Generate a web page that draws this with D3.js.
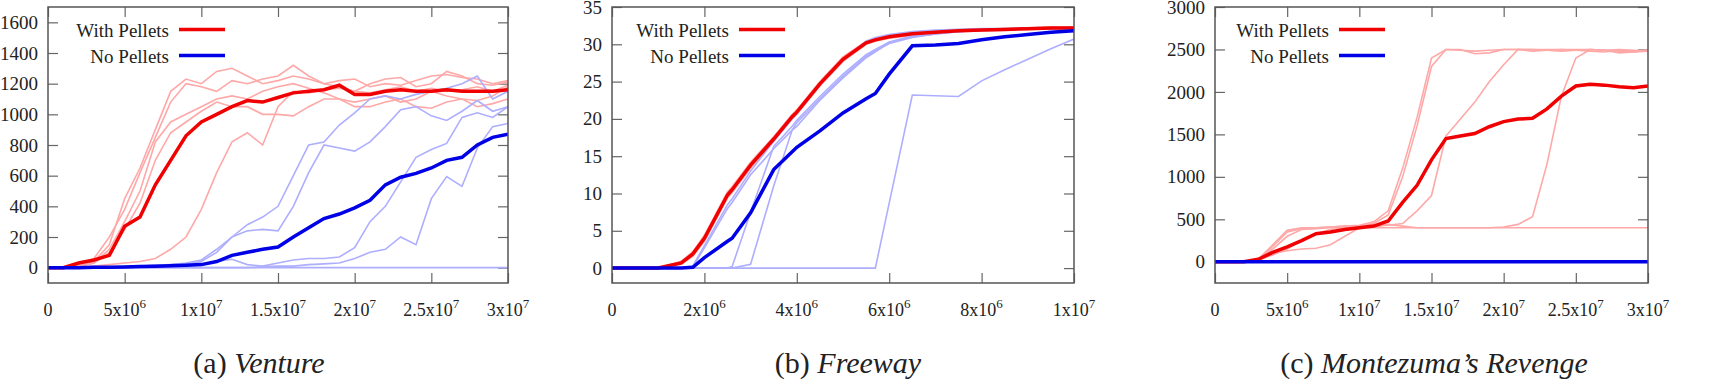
<!DOCTYPE html>
<html>
<head>
<meta charset="utf-8">
<script src="https://cdn.jsdelivr.net/npm/d3@7"></script>
<style>
body { margin: 0; background: #fff; }
svg text { font-family: "Liberation Serif", "DejaVu Serif", serif !important; fill: #222; }
.frame { fill: none; stroke: #555; stroke-width: 1.5; }
.tick line { stroke: #666; stroke-width: 1.2; }
.domain { display: none; }
</style>
</head>
<body>
<div id="chart"></div>
<script>
// ---------- data (x in millions of frames) ----------

// (a) Venture
var ventureSteps = [0,1,2,3,4,5,6,7,8,9,10,11,12,13,14,15,16,17,18,19,20,21,22,23,24,25,26,27,28,29,30];
var ventureRedMean = [0,0,30,50,80,270,330,540,700,860,950,1000,1050,1090,1080,1110,1140,1150,1160,1190,1130,1130,1150,1160,1150,1150,1160,1150,1150,1150,1160];
var ventureRed1 = [0,0,10,40,150,450,650,900,1150,1230,1200,1280,1300,1250,1200,1220,1250,1230,1200,1220,1230,1180,1200,1190,1220,1250,1260,1240,1230,1200,1220];
var ventureRed2 = [0,0,20,60,200,380,620,850,1080,1200,1180,1150,1220,1200,1230,1250,1320,1250,1200,1180,1150,1200,1230,1240,1180,1200,1280,1250,1200,1190,1210];
var ventureRed3 = [0,0,10,30,120,300,500,820,950,1000,1050,1100,1120,1100,1150,1180,1200,1170,1140,1100,1080,1100,1120,1080,1100,1150,1120,1100,1090,1120,1180];
var ventureRed4 = [0,0,5,30,100,250,420,700,880,950,1020,1080,1050,1050,1000,1000,990,1050,1100,1100,1050,1050,1080,1100,1050,1040,1080,1100,1050,1070,1100];
var ventureRed5 = [0,0,0,10,20,30,40,60,120,200,380,620,820,880,800,1050,1150,1140,1160,1170,1150,1140,1160,1180,1150,1170,1150,1160,1180,1150,1190];
var ventureBlueMean = [0,0,0,2,3,5,7,10,12,15,20,40,80,100,120,135,200,260,320,350,390,440,540,590,615,650,700,720,800,850,870];
var ventureBlue1 = [0,0,0,0,0,5,10,15,20,30,50,120,200,280,330,400,600,800,820,930,1010,1100,1120,1100,1130,1150,1170,1200,1250,1100,1150];
var ventureBlue2 = [0,0,0,0,0,5,10,15,20,25,40,100,200,240,250,240,400,620,800,780,760,820,920,1030,1050,990,960,1020,1090,1020,1050];
var ventureBlue3 = [0,0,0,0,0,0,5,10,15,15,20,40,55,20,10,30,50,60,60,70,130,300,400,560,720,770,810,980,1010,980,1050];
var ventureBlue4 = [0,0,0,0,0,0,0,0,0,0,0,0,0,0,5,10,10,20,25,30,60,100,120,200,150,450,594,530,780,920,940];
var ventureBlue5 = [0,0,0,0,0,0,0,0,0,0,0,0,0,0,0,0,0,0,0,0,0,0,0,0,0,0,0,0,0,0,0];

// (b) Freeway
var freewaySteps = [0,1,1.5,1.75,2,2.5,2.6,3,3.5,3.9,4,4.5,5,5.5,5.7,6,6.5,7,7.5,8,8.5,9,9.5,10];
var freewayRedMean = [0,0,0.7,1.9,4,9.8,10.5,13.8,17.3,20.3,20.9,24.7,28,30.2,30.6,31,31.4,31.6,31.8,31.9,32,32.1,32.2,32.2];
var freewayRed1 = [0,0,0.9,2.2,4.4,10.2,10.9,14.2,17.6,20.6,21.2,25,28.3,30.4,30.8,31.2,31.6,31.8,31.9,32,32.1,32.2,32.3,32.3];
var freewayRed2 = [0,0,0.5,1.6,3.6,9.4,10.1,13.4,17,20,20.6,24.4,27.7,30,30.4,30.8,31.2,31.5,31.7,31.8,31.9,32,32.1,32.1];
var freewayRed3 = [0,0,0.6,1.8,4.1,9.9,10.6,13.6,17.1,20.4,21,24.9,28.2,30.1,30.5,31,31.5,31.7,31.9,32,32.1,32.2,32.2,32.3];
var freewayRed4 = [0,0,0.8,2,3.9,9.6,10.3,13.9,17.5,20.2,20.8,24.5,27.8,30.3,30.7,31.1,31.3,31.6,31.8,31.9,32,32.1,32.2,32.2];
var freewayRed5 = [0,0,0.7,1.9,4,9.7,10.4,13.7,17.3,20.3,20.9,24.7,28.1,30.2,30.6,31,31.4,31.7,31.8,31.9,32,32.1,32.2,32.2];
var freewayBlueMean = [0,0,0,0.1,1.4,3.6,4,7.4,13.2,15.6,16.2,18.4,20.8,22.7,23.4,26,29.8,29.9,30.1,30.6,31,31.3,31.6,31.8];
var freewayBlue1 = [0,0,0,0.3,3,8.5,9.3,13,17,20,20.7,24.5,28,30.4,30.9,31.3,31.7,31.9,32,32.1,32.1,32.2,32.2,32.2];
var freewayBlue2 = [0,0,0,0.2,2.7,8,8.8,12.5,16,18.5,19,22.5,25.5,28.2,29,30.2,31,31.4,31.7,31.9,32,32.1,32.1,32.2];
var freewayBlue3 = [0,0,0,0,0,0,0.2,7.5,16.3,19,19.8,23,26,28.6,29.3,30.3,31.1,31.5,31.8,31.9,32,32.1,32.1,32.1];
var freewayBlue4 = [0,0,0,0,0,0,0,0.5,11,18.5,19.5,22.7,25.7,28.4,29.1,30.1,30.9,31.4,31.7,31.9,32,32.1,32.1,32.2];
var freewayBlue5 = [0,0,0,0,0,0,0,0,0,0,0,0,0,0,0,8.7,23.2,23.1,23,25.1,26.6,28,29.4,30.7];

// (c) Montezuma's Revenge
var montezumaSteps = [0,1,2,3,4,5,6,7,8,9,10,11,12,13,14,15,16,17,18,19,20,21,22,23,24,25,26,27,28,29,30];
var montezumaRedMean = [0,0,0,30,110,175,250,330,350,380,400,420,480,700,900,1200,1450,1480,1510,1590,1650,1680,1690,1800,1950,2070,2090,2080,2060,2050,2070];
var montezumaRed1 = [0,0,0,20,150,300,380,390,400,410,420,450,550,1000,1600,2300,2500,2500,2450,2460,2500,2500,2500,2500,2500,2500,2500,2490,2480,2470,2480];
var montezumaRed2 = [0,0,0,30,200,370,400,400,410,420,430,470,600,1100,1700,2400,2500,2490,2480,2490,2500,2500,2500,2490,2480,2490,2500,2490,2500,2490,2480];
var montezumaRed3 = [0,0,0,20,80,150,250,330,380,400,410,420,430,450,600,780,1480,1680,1880,2120,2320,2500,2480,2490,2500,2490,2480,2470,2490,2480,2490];
var montezumaRed4 = [0,0,0,20,100,130,150,160,200,300,400,400,400,400,400,400,400,400,400,400,410,440,530,1150,1950,2400,2500,2490,2460,2470,2490];
var montezumaRed5 = [0,0,0,30,180,350,390,400,410,420,420,410,440,420,400,400,400,400,400,400,400,400,400,400,400,400,400,400,400,400,400];
var montezumaBlueMean = [0,0,0,0,0,0,0,0,0,0,0,0,0,0,0,0,0,0,0,0,0,0,0,0,0,0,0,0,0,0,0];

// tick labels: [mantissa, exponent]
var ventureXTicks = [0,5,10,15,20,25,30];
var ventureXLabels = [["0",""],["5x10","6"],["1x10","7"],["1.5x10","7"],["2x10","7"],["2.5x10","7"],["3x10","7"]];
var ventureYTicks = [0,200,400,600,800,1000,1200,1400,1600];
var freewayXTicks = [0,2,4,6,8,10];
var freewayXLabels = [["0",""],["2x10","6"],["4x10","6"],["6x10","6"],["8x10","6"],["1x10","7"]];
var freewayYTicks = [0,5,10,15,20,25,30,35];
var montezumaXTicks = [0,5,10,15,20,25,30];
var montezumaXLabels = ventureXLabels;
var montezumaYTicks = [0,500,1000,1500,2000,2500,3000];

var legendNames = ["With Pellets", "No Pellets"];

// ---------- layout ----------
var svgWidth = 1724, svgHeight = 384;
var plotTop = 7, plotBottom = 283;
var serif = '"Liberation Serif", "DejaVu Serif", serif';

var colors = {
	red: '#f00000',
	blue: '#0000e6',
	redFaint: '#ffa8a8',
	blueFaint: '#aeaeff'
};

var svg = d3.select('#chart')
	.append('svg')
	.attr('width', svgWidth)
	.attr('height', svgHeight)
	.attr('font-family', serif);

var panels = [
	{
		id: 'a', left: 48, right: 508, steps: ventureSteps,
		xDomain: [0, 30], yDomain: [-100, 1700],
		xTicks: ventureXTicks, xLabels: ventureXLabels, yTicks: ventureYTicks,
		redRuns: [ventureRed1, ventureRed2, ventureRed3, ventureRed4, ventureRed5],
		blueRuns: [ventureBlue1, ventureBlue2, ventureBlue3, ventureBlue4, ventureBlue5],
		redMean: ventureRedMean, blueMean: ventureBlueMean,
		legendX: 169, captionX: 259, tag: '(a) ', name: 'Venture'
	},
	{
		id: 'b', left: 612, right: 1074, steps: freewaySteps,
		xDomain: [0, 10], yDomain: [-2, 35],
		xTicks: freewayXTicks, xLabels: freewayXLabels, yTicks: freewayYTicks,
		redRuns: [freewayRed1, freewayRed2, freewayRed3, freewayRed4, freewayRed5],
		blueRuns: [freewayBlue1, freewayBlue2, freewayBlue3, freewayBlue4, freewayBlue5],
		redMean: freewayRedMean, blueMean: freewayBlueMean,
		legendX: 729, captionX: 848, tag: '(b) ', name: 'Freeway'
	},
	{
		id: 'c', left: 1215, right: 1648, steps: montezumaSteps,
		xDomain: [0, 30], yDomain: [-250, 3000],
		xTicks: montezumaXTicks, xLabels: montezumaXLabels, yTicks: montezumaYTicks,
		redRuns: [montezumaRed1, montezumaRed2, montezumaRed3, montezumaRed4, montezumaRed5],
		blueRuns: [],
		redMean: montezumaRedMean, blueMean: montezumaBlueMean,
		legendX: 1329, captionX: 1434, tag: '(c) ', name: 'Montezuma\u2019s Revenge'
	}
];

panels.forEach(p => drawPanel(p));

function drawPanel(p) {
	var xScale = d3.scaleLinear().domain(p.xDomain).range([p.left, p.right]);
	var yScale = d3.scaleLinear().domain(p.yDomain).range([plotBottom, plotTop]);

	var g = svg.append('g').attr('class', 'panel-' + p.id);

	g.append('clipPath')
		.attr('id', 'clip-' + p.id)
		.append('rect')
		.attr('x', p.left)
		.attr('y', plotTop)
		.attr('width', p.right - p.left)
		.attr('height', plotBottom - plotTop);

	// ticks on all four sides, pointing inward
	var yAxis = g.append('g')
		.attr('transform', `translate(${p.left},0)`)
		.call(d3.axisLeft(yScale).tickValues(p.yTicks).tickSize(-10).tickPadding(10).tickFormat(d3.format('d')));
	yAxis.attr('font-family', serif);
	yAxis.selectAll('text')
		.style('font-size', '19px')
		.style('font-family', serif)
		.attr('fill', '#222');

	g.append('g')
		.attr('transform', `translate(${p.right},0)`)
		.call(d3.axisRight(yScale).tickValues(p.yTicks).tickSize(-10).tickFormat(''));

	g.append('g')
		.attr('transform', `translate(0,${plotBottom})`)
		.call(d3.axisBottom(xScale).tickValues(p.xTicks).tickSize(-10).tickFormat(''));

	g.append('g')
		.attr('transform', `translate(0,${plotTop})`)
		.call(d3.axisTop(xScale).tickValues(p.xTicks).tickSize(-10).tickFormat(''));

	// x tick labels with exponents
	var xLab = g.append('g').selectAll('text')
		.data(p.xTicks)
		.enter()
		.append('text')
		.attr('x', d => xScale(d))
		.attr('y', 316)
		.attr('text-anchor', 'middle')
		.style('font-family', serif)
		.style('font-size', '18px');
	xLab.append('tspan').text((d, i) => p.xLabels[i][0]);
	xLab.append('tspan')
		.attr('dy', -8)
		.style('font-size', '13px')
		.text((d, i) => p.xLabels[i][1]);

	var line = d3.line()
		.x((d, i) => xScale(p.steps[i]))
		.y(d => yScale(d));

	var lines = g.append('g').attr('clip-path', `url(#clip-${p.id})`);

	lines.selectAll('.red-run')
		.data(p.redRuns)
		.enter()
		.append('path')
		.attr('class', 'red-run')
		.attr('d', line)
		.attr('fill', 'none')
		.attr('stroke', colors.redFaint)
		.attr('stroke-width', 1.6);

	lines.selectAll('.blue-run')
		.data(p.blueRuns)
		.enter()
		.append('path')
		.attr('class', 'blue-run')
		.attr('d', line)
		.attr('fill', 'none')
		.attr('stroke', colors.blueFaint)
		.attr('stroke-width', 1.6);

	lines.append('path')
		.attr('d', line(p.redMean))
		.attr('fill', 'none')
		.attr('stroke', colors.red)
		.attr('stroke-width', 3.5);

	lines.append('path')
		.attr('d', line(p.blueMean))
		.attr('fill', 'none')
		.attr('stroke', colors.blue)
		.attr('stroke-width', 3.5);

	g.append('rect')
		.attr('class', 'frame')
		.attr('x', p.left)
		.attr('y', plotTop)
		.attr('width', p.right - p.left)
		.attr('height', plotBottom - plotTop);

	// legend
	var legend = g.append('g');
	[colors.red, colors.blue].forEach((c, i) => {
		legend.append('text')
			.attr('x', p.legendX)
			.attr('y', 37 + i * 26)
			.attr('text-anchor', 'end')
			.style('font-family', serif)
			.style('font-size', '19px')
			.text(legendNames[i]);
		legend.append('line')
			.attr('x1', p.legendX + 10)
			.attr('x2', p.legendX + 56)
			.attr('y1', 29.5 + i * 26)
			.attr('y2', 29.5 + i * 26)
			.attr('stroke', c)
			.attr('stroke-width', 3.5);
	});

	// caption
	var cap = g.append('text')
		.attr('x', p.captionX)
		.attr('y', 373)
		.attr('text-anchor', 'middle')
		.style('font-family', serif)
		.style('font-size', '30px');
	cap.append('tspan').text(p.tag);
	cap.append('tspan').style('font-style', 'italic').text(p.name);
}
</script>
</body>
</html>
